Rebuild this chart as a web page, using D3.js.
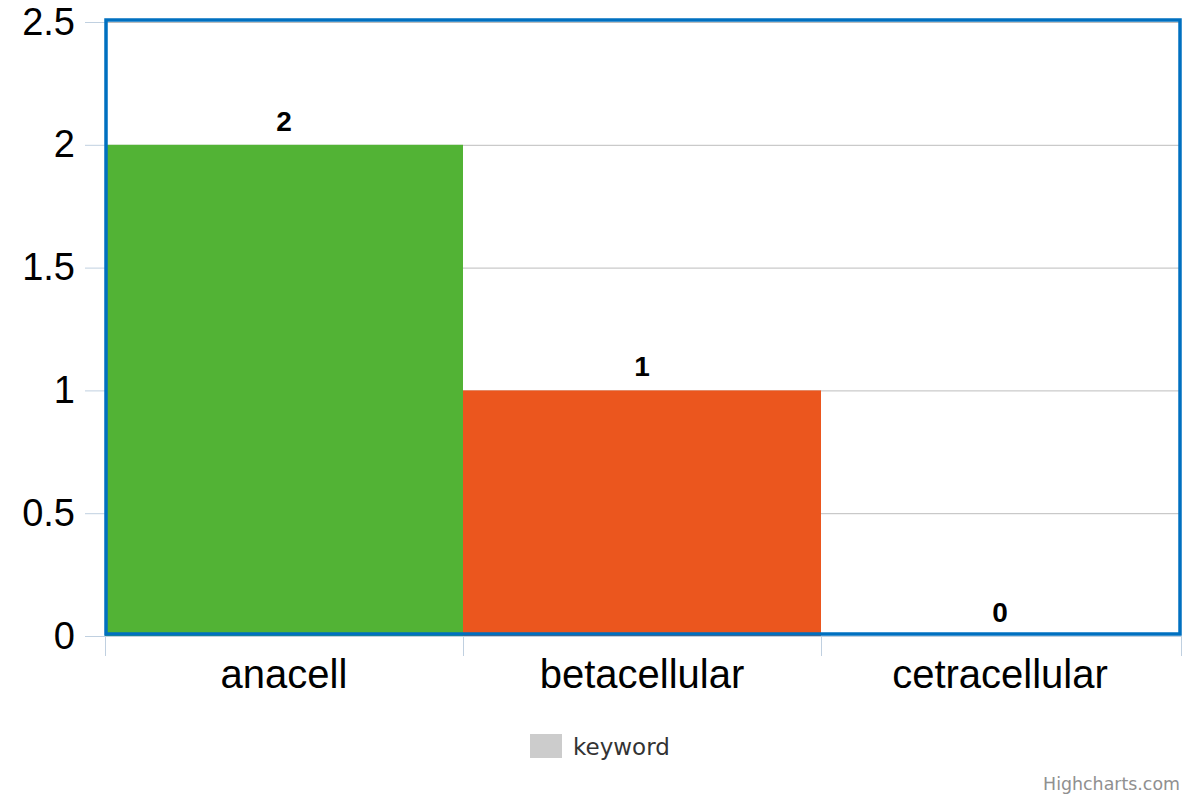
<!DOCTYPE html>
<html>
<head>
<meta charset="utf-8">
<script src="https://cdn.jsdelivr.net/npm/d3@7"></script>
<style>
  body { margin: 0; background: #fff; }
  svg { display: block; }
</style>
</head>
<body>
<div id="container"></div>
<script>
// chart data
let categories = ["anacell", "betacellular", "cetracellular"];
let values = [2, 1, 0];
let barColors = ["#52b335", "#eb561e", "#0070c0"];
let yTicks = [0, 0.5, 1, 1.5, 2, 2.5];
let seriesName = "keyword";

let w = 1200;
let h = 800;
let plotLeft = 105, plotRight = 1179, plotTop = 22, plotBottom = 636;

let svg = d3.select("#container")
  .append("svg")
  .attr("width", w)
  .attr("height", h);

let x = d3.scaleBand()
  .domain(categories)
  .range([plotLeft, plotRight])
  .padding(0);

let y = d3.scaleLinear()
  .domain([0, 2.5])
  .range([plotBottom, plotTop]);

// gridlines
svg.append("g")
  .selectAll("line")
  .data(yTicks.filter(d => d > 0))
  .enter()
  .append("line")
  .attr("x1", plotLeft)
  .attr("x2", plotRight)
  .attr("y1", d => y(d) + 0.5)
  .attr("y2", d => y(d) + 0.5)
  .attr("stroke", "#bdbdbd")
  .attr("stroke-width", 1);

// bars
svg.append("g")
  .selectAll("rect")
  .data(values)
  .enter()
  .append("rect")
  .attr("x", (d, i) => x(categories[i]))
  .attr("width", x.bandwidth())
  .attr("y", d => y(d))
  .attr("height", d => plotBottom - y(d))
  .attr("fill", (d, i) => barColors[i]);

// y axis
let yAxis = svg.append("g")
  .attr("transform", "translate(" + plotLeft + ",0)")
  .call(d3.axisLeft(y).tickValues(yTicks).tickSize(20).tickPadding(10).tickFormat(d3.format("~g")));
yAxis.select(".domain").remove();
yAxis.selectAll(".tick line").attr("stroke", "#c0d0e0");
yAxis.selectAll("text")
  .attr("font-family", "Liberation Sans, Arial, sans-serif")
  .attr("font-size", 38)
  .attr("fill", "#000");

// x axis
let xAxis = svg.append("g")
  .attr("transform", "translate(0," + plotBottom + ")");
xAxis.append("line")
  .attr("x1", plotLeft).attr("x2", plotRight + 2)
  .attr("y1", 0.5).attr("y2", 0.5)
  .attr("stroke", "#c0d0e0");
let xTickPos = categories.map(c => x(c)).concat([plotRight + 2]);
xAxis.selectAll("line.tk")
  .data(xTickPos)
  .enter()
  .append("line")
  .attr("class", "tk")
  .attr("x1", d => d + 0.5).attr("x2", d => d + 0.5)
  .attr("y1", 0).attr("y2", 20)
  .attr("stroke", "#c0d0e0");
xAxis.selectAll("text")
  .data(categories)
  .enter()
  .append("text")
  .attr("x", d => x(d) + x.bandwidth() / 2)
  .attr("y", 52)
  .attr("text-anchor", "middle")
  .attr("font-family", "Liberation Sans, Arial, sans-serif")
  .attr("font-size", 40)
  .attr("fill", "#000")
  .text(d => d);

// plot border
svg.append("rect")
  .attr("x", 106)
  .attr("y", 20)
  .attr("width", 1074)
  .attr("height", 614)
  .attr("fill", "none")
  .attr("stroke", "#0070c0")
  .attr("stroke-width", 3.5);

// data labels
svg.append("g")
  .selectAll("text")
  .data(values)
  .enter()
  .append("text")
  .attr("x", (d, i) => x(categories[i]) + x.bandwidth() / 2)
  .attr("y", d => y(d) - 14)
  .attr("text-anchor", "middle")
  .attr("font-family", "Liberation Sans, Arial, sans-serif")
  .attr("font-weight", "bold")
  .attr("font-size", 28)
  .attr("fill", "#000")
  .text(d => d);

// legend
let legend = svg.append("g");
legend.append("rect")
  .attr("x", 530).attr("y", 734)
  .attr("width", 32).attr("height", 24)
  .attr("fill", "#cccccc");
legend.append("text")
  .attr("x", 573).attr("y", 755)
  .attr("font-family", "DejaVu Sans, sans-serif")
  .attr("font-size", 23)
  .attr("fill", "#333")
  .text(seriesName);

// credits
svg.append("text")
  .attr("x", 1180).attr("y", 790)
  .attr("text-anchor", "end")
  .attr("font-family", "DejaVu Sans, sans-serif")
  .attr("font-size", 17.4)
  .attr("fill", "#909090")
  .text("Highcharts.com");
</script>
</body>
</html>
